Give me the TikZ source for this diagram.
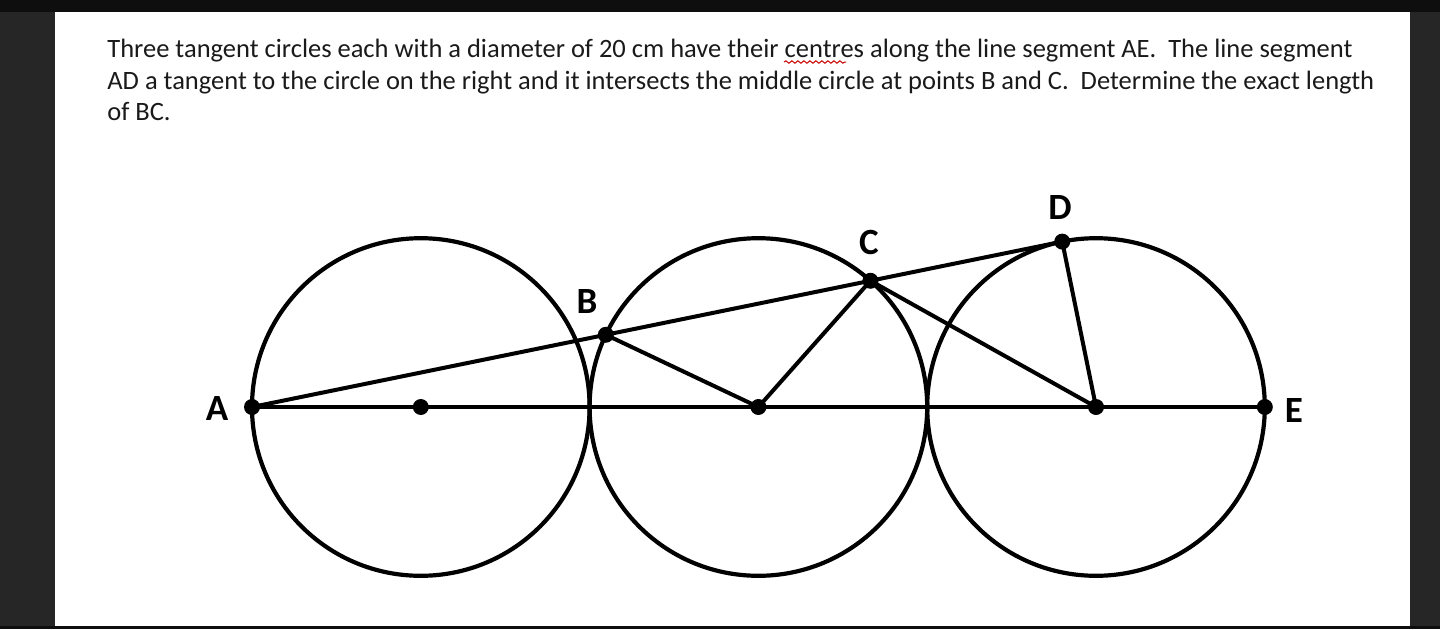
\documentclass[tikz,border=0pt]{standalone}
\usepackage{fontspec}
\setmainfont{Carlito}
\usetikzlibrary{calc,decorations.pathmorphing}
\definecolor{panelgray}{HTML}{262626}
\definecolor{topblack}{HTML}{0E0E0E}
\definecolor{txt}{HTML}{1A1A1A}
\begin{document}
\begin{tikzpicture}[x=0.5pt,y=0.5pt,
  geo/.style={line width=2pt,black},
  circ/.style={line width=2.1pt,black},
  dotpt/.style={circle,fill=black,inner sep=0pt,minimum size=8pt},
  lbl/.style={font=\fontsize{18.5pt}{20pt}\selectfont\bfseries,text=black,inner sep=0pt},
  para/.style={font=\fontsize{13.25pt}{15pt}\selectfont,text=txt,inner sep=0pt,anchor=base west}]
\useasboundingbox (0,0) rectangle (1440,629);
\fill[panelgray] (0,0) rectangle (1440,629);
\fill[topblack] (0,617) rectangle (1440,629);
\fill[topblack] (0,0) rectangle (1440,3);
\fill[white] (55,3) rectangle (1410,617);
% text
\node[para] (l1) at (107,572) {Three tangent circles each with a diameter of 20 cm have their centres along the line segment AE.\ \ The line segment};
\node[para] (l2) at (107,540) {AD a tangent to the circle on the right and it intersects the middle circle at points B and C.\ \ Determine the exact length};
\node[para] (l3) at (107,509) {of BC.};
\draw[red!80!black,line width=0.5pt,decorate,decoration={snake,amplitude=0.6pt,segment length=3pt}] (784,567) -- (846,567);
% geometry
\def\R{168.8}
\coordinate (A) at (252,222);
\coordinate (O1) at ($(A)+(\R,0)$);
\coordinate (O2) at ($(A)+({3*\R},0)$);
\coordinate (O3) at ($(A)+({5*\R},0)$);
\coordinate (E) at ($(A)+({6*\R},0)$);
\coordinate (B) at ($(A)+({2.09614*\R},{0.427878*\R})$);
\coordinate (C) at ($(A)+({3.66384*\R},{0.747878*\R})$);
\coordinate (D) at ($(A)+({4.8*\R},{0.979796*\R})$);
\draw[circ] (O1) circle (\R);
\draw[circ] (O2) circle (\R);
\draw[circ] (O3) circle (\R);
\draw[geo] (A) -- (E);
\draw[geo] (A) -- (D);
\draw[geo] (B) -- (O2) -- (C) -- (O3) -- (D);
\foreach \p in {A,O1,O2,O3,E,B,C,D} \node[dotpt] (d\p) at (\p) {};
\node[lbl] (lA) at (217,221) {A};
\node[lbl] (lB) at (587,328) {B};
\node[lbl] (lC) at (869,387) {C};
\node[lbl] (lD) at (1060,422) {D};
\node[lbl] (lE) at (1294,219) {E};
\end{tikzpicture}
\end{document}
